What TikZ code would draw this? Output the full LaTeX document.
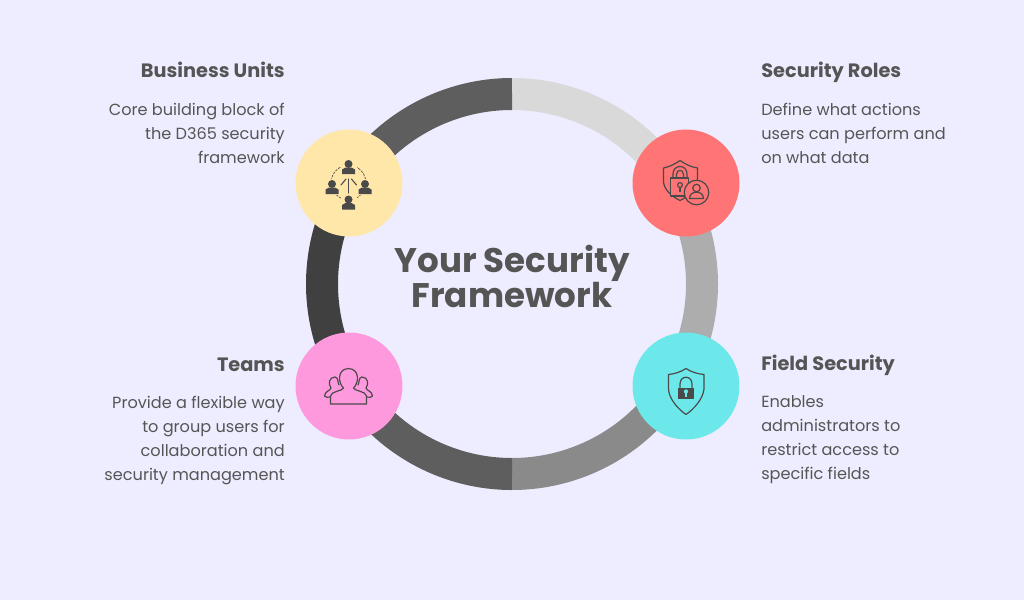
\documentclass[tikz,border=0pt]{standalone}
\usepackage{fontspec}
\setmainfont{Poppins}
\usetikzlibrary{positioning}

\definecolor{bgc}{HTML}{EEEDFF}
\definecolor{inkc}{HTML}{555555}
\definecolor{iconc}{HTML}{4A4A4A}
\definecolor{unitsc}{HTML}{FFE6A9}
\definecolor{rolesc}{HTML}{FF7474}
\definecolor{teamsc}{HTML}{FF99DD}
\definecolor{fieldsc}{HTML}{6CE8EA}

\tikzset{
  seg/.style={line width=24pt},
  disc/.style={circle,minimum size=80.25pt,inner sep=0pt},
  head/.style={font=\bfseries\fontsize{14.5pt}{18pt}\selectfont,text=inkc,inner sep=0pt},
  body/.style={font=\fontsize{12.1pt}{18pt}\selectfont,text=inkc,inner sep=0pt},
  iconline/.style={draw=iconc,line width=.9pt,line join=round,line cap=round},
  iconfill/.style={fill=iconc}
}

\begin{document}
\begin{tikzpicture}[x=.75pt,y=-.75pt]
      \fill[bgc] (0,0) rectangle (1024,600);
      \coordinate (mid) at (512,284);

      % ring
      \draw[seg,color=black!15] (mid) ++(90:142.5pt) arc[start angle=90,end angle=30,radius=142.5pt];
      \draw[seg,color=black!32] (mid) ++(30:142.5pt) arc[start angle=30,end angle=-30,radius=142.5pt];
      \draw[seg,color=black!46] (mid) ++(-30:142.5pt) arc[start angle=-30,end angle=-90,radius=142.5pt];
      \draw[seg,color=black!63] (mid) ++(-90:142.5pt) arc[start angle=-90,end angle=-150,radius=142.5pt];
      \draw[seg,color=black!75] (mid) ++(-150:142.5pt) arc[start angle=-150,end angle=-210,radius=142.5pt];
      \draw[seg,color=black!63] (mid) ++(150:142.5pt) arc[start angle=150,end angle=90,radius=142.5pt];

      \node[disc,fill=unitsc] (units) at (349,183) {};
      \node[disc,fill=rolesc] (roles) at (686,183) {};
      \node[disc,fill=teamsc] (teams) at (349,386) {};
      \node[disc,fill=fieldsc] (fields) at (686,386) {};

      \node[font=\bfseries\fontsize{25.6pt}{25pt}\selectfont,text=inkc,align=center,inner sep=0pt] (title) at (512,276.5) {Your Security\\Framework};

      \node[head,anchor=base east] (unitshead) at (285,77) {Business Units};
      \node[body,anchor=north east,align=right] (unitsbody) at (285,103) {Core building block of\\the D365 security\\framework};
      \node[head,anchor=base west] (roleshead) at (761,77) {Security Roles};
      \node[body,anchor=north west,align=left] (rolesbody) at (761,103) {Define what actions\\users can perform and\\on what data};
      \node[head,anchor=base east] (teamshead) at (285,371) {Teams};
      \node[body,anchor=north east,align=right] (teamsbody) at (285,396) {Provide a flexible way\\to group users for\\collaboration and\\security management};
      \node[head,anchor=base west] (fieldshead) at (761,370) {Field Security};
      \node[body,anchor=north west,align=left] (fieldsbody) at (761,395) {Enables\\administrators to\\restrict access to\\specific fields};

      % business units icon
      \draw[iconline,line width=.5pt,dash pattern=on 1.6pt off 1.1pt] (348.5,182.5) circle[radius=13pt];
      \foreach \px/\py in {348.5/164,332/184,365/184,348.5/199.5} {
        \fill[unitsc] (\px-8,\py-5) rectangle (\px+8,\py+11);
        \fill[iconfill] (\px,\py) circle[radius=3pt];
        \fill[iconfill] (\px-6.5,\py+10) -- (\px-6.5,\py+5.5) -- (\px-3,\py+3.5) -- (\px+3,\py+3.5) -- (\px+6.5,\py+5.5) -- (\px+6.5,\py+10) -- cycle;
      }
      \draw[iconline,line width=.8pt] (348.5,179) -- (348.5,193);
      \draw[iconline,line width=.8pt] (341,185) -- (346,179);
      \draw[iconline,line width=.8pt] (356.5,185) -- (351.5,179);

      % security roles icon
      \draw[iconline] (680,160.5) .. controls (675,164) and (669,167) .. (663.5,168) -- (663.5,181) .. controls (663.5,189) and (671,196) .. (680,200.5) .. controls (689,196) and (697,189) .. (697.5,181) -- (697.5,168) .. controls (691,167) and (685,164) .. (680,160.5) -- cycle;
      \draw[iconline,fill=rolesc] (670.5,178) rectangle (688.5,196);
      \draw[iconline] (673,178) -- (673,174) .. controls (673,164) and (687,164) .. (687,174) -- (687,178);
      \draw[iconline] (676.5,178) -- (676.5,174.5) .. controls (676.5,169) and (683.5,169) .. (683.5,174.5) -- (683.5,178);
      \draw[iconline] (680,185) circle[radius=1.8pt];
      \draw[iconline] (680,188) -- (680,191.5);
      \draw[iconline,fill=rolesc] (696.5,192.5) circle[radius=9.2pt];
      \draw[iconline] (696.5,188) circle[radius=2.8pt];
      \draw[iconline] (689.5,198.5) .. controls (689.5,190) and (703.5,190) .. (703.5,198.5) -- cycle;

      % teams icon
      \draw[iconline] (339,385) .. controls (337,381) and (339,378) .. (335,377) .. controls (329,377) and (328,384) .. (331,388) .. controls (330,391) and (325,391) .. (324.5,396) .. controls (325,398) and (328,397) .. (330.5,397);
      \draw[iconline] (358,385) .. controls (360,381) and (358,378) .. (362,377) .. controls (368,377) and (369,384) .. (366,388) .. controls (367,391) and (372,391) .. (372.5,396) .. controls (372,398) and (369,397) .. (366.5,397);
      \draw[iconline] (330.5,404) -- (330.5,396) .. controls (331,391) and (343,391) .. (343.5,388) .. controls (338,383) and (337,369) .. (348.5,368.5) .. controls (360,369) and (359,383) .. (353.5,388) .. controls (354,391) and (366,391) .. (366.5,396) -- (366.5,404) -- cycle;

      % field security icon
      \draw[iconline] (686,368.5) .. controls (681,372) and (674,374) .. (668.5,374.5) -- (668.5,389) .. controls (669,399) and (678,409) .. (686,414.5) .. controls (694,409) and (703,399) .. (704,389) -- (704,374.5) .. controls (698,374) and (691,372) .. (686,368.5) -- cycle;
      \fill[iconfill] (678,387.5) rectangle (694,399);
      \draw[iconline] (680,387.5) -- (680,384) .. controls (680,375) and (692,375) .. (692,384) -- (692,387.5);
      \fill[fieldsc] (686,391.5) circle[radius=1.6pt];
      \fill[fieldsc] (685,392) rectangle (687,396.5);
    \end{tikzpicture}
\end{document}
